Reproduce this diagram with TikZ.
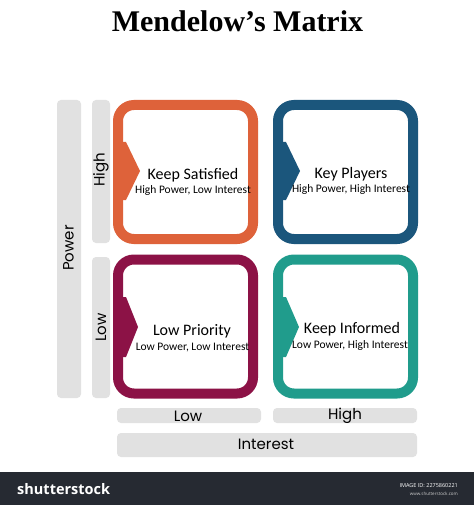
\documentclass[tikz,border=0pt]{standalone}
\usepackage{fontspec}
\setmainfont{Liberation Serif}
\newfontfamily\boxfont{Carlito}
\newfontfamily\axisfont{Poppins}
\newfontfamily\bannerfont{Open Sans}
\definecolor{cOrange}{HTML}{DE623A}
\definecolor{cBlue}{HTML}{1B567C}
\definecolor{cMaroon}{HTML}{8C1246}
\definecolor{cTeal}{HTML}{209C8C}
\definecolor{cBar}{HTML}{E1E1E1}
\definecolor{cBanner}{HTML}{262A32}
\tikzset{
  quad/.style={draw=#1, line width=10pt, rounded corners=16pt, fill=white,
    minimum width=135pt, minimum height=134pt, inner sep=0pt},
  gbar/.style={fill=cBar, rounded corners=4pt, inner sep=0pt},
  axlabel/.style={font=\axisfont\fontsize{15}{15}\selectfont, text=black, inner sep=0pt},
  ttl/.style={font=\boxfont\fontsize{16}{16}\selectfont, anchor=base, inner sep=0pt},
  sub/.style={font=\boxfont\fontsize{11.5}{11.5}\selectfont, anchor=base, inner sep=0pt},
}
\begin{document}
\begin{tikzpicture}[x=1pt,y=-1pt]
\useasboundingbox (0,0) rectangle (474,505);
\fill[white] (0,0) rectangle (474,505);
% title
\node[font=\bfseries\fontsize{30}{30}\selectfont, anchor=base] (title) at (237.5,32) {Mendelow’s Matrix};
% quadrants
\node[quad=cOrange] (ks) at (185.5,172) {};
\node[quad=cBlue]   (kp) at (345.5,172) {};
\node[quad=cMaroon] (lp) at (185.5,326.5) {};
\node[quad=cTeal]   (ki) at (345.5,326.5) {};
% notches
\fill[cOrange] (122,142) -- (126,142) -- (140,171) -- (126,200) -- (122,200) -- cycle;
\fill[cBlue]   (282,142) -- (286,142) -- (300,171) -- (286,200) -- (282,200) -- cycle;
\fill[cMaroon] (122,297) -- (126,297) -- (138,327) -- (126,357) -- (122,357) -- cycle;
\fill[cTeal]   (282,297) -- (286,297) -- (299,327) -- (286,357) -- (282,357) -- cycle;
% texts
\node[ttl] (ksT) at (193,179) {Keep Satisfied};
\node[sub] (ksS) at (193,193) {High Power, Low Interest};
\node[ttl] (kpT) at (351,178) {Key Players};
\node[sub] (kpS) at (351,192) {High Power, High Interest};
\node[ttl] (lpT) at (192,335) {Low Priority};
\node[sub] (lpS) at (192.5,350) {Low Power, Low Interest};
\node[ttl] (kiT) at (352,333) {Keep Informed};
\node[sub] (kiS) at (350,348) {Low Power, High Interest};
% side bars
\node[gbar, minimum width=24pt, minimum height=298pt] (power) at (69,249) {};
\node[gbar, minimum width=18pt, minimum height=143pt] (phigh) at (101,171.5) {};
\node[gbar, minimum width=18pt, minimum height=141pt] (plow) at (101,327.5) {};
\node[gbar, minimum width=144pt, minimum height=15pt] (ilow) at (189,415.5) {};
\node[gbar, minimum width=144pt, minimum height=15pt] (ihigh) at (345,415.5) {};
\node[gbar, minimum width=300pt, minimum height=24pt] (interest) at (267,445) {};
\node[axlabel, rotate=90] (powerT) at (68.5,248) {Power};
\node[axlabel, rotate=90] (phighT) at (101,170) {High};
\node[axlabel, rotate=90] (plowT) at (101,327.5) {Low};
\node[axlabel] (ilowT) at (188,416) {Low};
\node[axlabel] (ihighT) at (345,416) {High};
\node[axlabel] (interestT) at (266,444) {Interest};
% banner
\fill[cBanner] (0,472) rectangle (474,505);
\node[font=\bannerfont\bfseries\fontsize{14.5}{14.5}\selectfont, text=white, anchor=base west, inner sep=0pt] (brand) at (17,494) {shutterstock};
\node[font=\bannerfont\fontsize{5.5}{5.5}\selectfont, text=white, anchor=base east, inner sep=0pt] (imgid) at (458,487) {IMAGE ID: 2275860221};
\node[font=\bannerfont\fontsize{4.5}{4.5}\selectfont, text=white!80!black, anchor=base east, inner sep=0pt] (www) at (458,495) {www.shutterstock.com};
\end{tikzpicture}
\end{document}
